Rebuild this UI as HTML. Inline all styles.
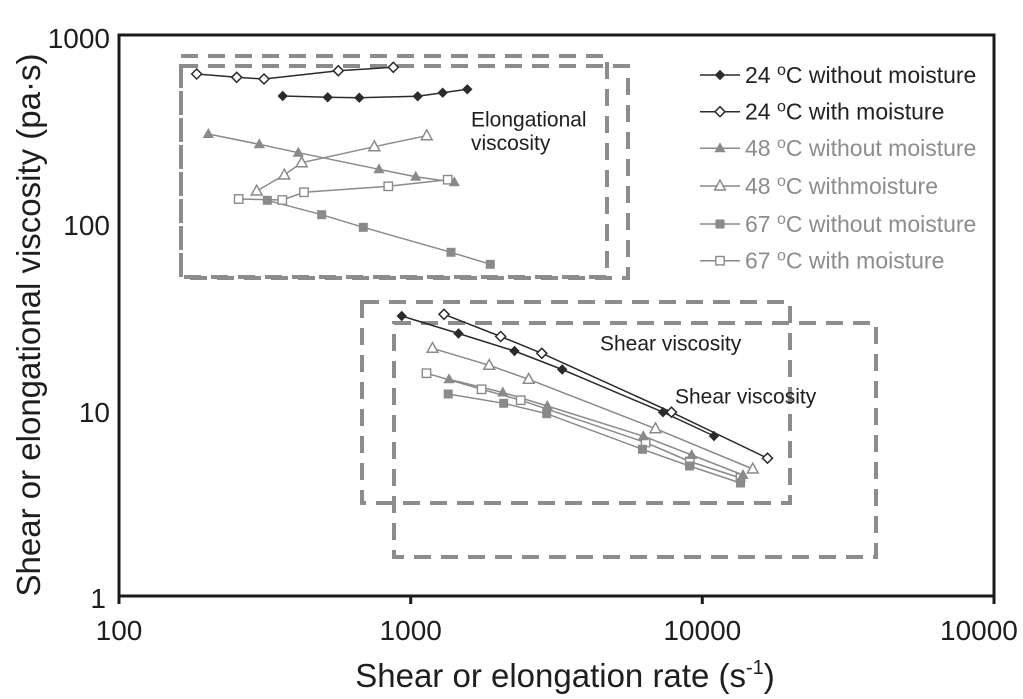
<!DOCTYPE html>
<html>
<head>
<meta charset="utf-8">
<style>
  html,body{margin:0;padding:0;background:#fff;}
  svg{display:block;}
  text{font-family:"Liberation Sans", Arial, sans-serif;}
</style>
</head>
<body>
<svg width="1023" height="699" viewBox="0 0 1023 699" xmlns="http://www.w3.org/2000/svg">
  <defs>
    <path id="fd" d="M0,-5.2 L5.2,0 L0,5.2 L-5.2,0Z" fill="#2b2b2b"/>
    <path id="od" d="M0,-5 L5,0 L0,5 L-5,0Z" fill="#fff" stroke="#2b2b2b" stroke-width="1.5"/>
    <path id="ft" d="M0,-6 L5.6,4 L-5.6,4Z" fill="#8a8a8a"/>
    <path id="ot" d="M0,-5.8 L5.4,4 L-5.4,4Z" fill="#fff" stroke="#8a8a8a" stroke-width="1.5"/>
    <rect id="fs" x="-4.5" y="-4.5" width="9" height="9" fill="#8a8a8a"/>
    <rect id="os" x="-4.2" y="-4.2" width="8.4" height="8.4" fill="#fff" stroke="#8a8a8a" stroke-width="1.4"/>
  </defs>
  <rect width="1023" height="699" fill="#fff"/>

  <!-- dashed boxes -->
  <g fill="none" stroke="#8c8c8c" stroke-width="4" stroke-dasharray="17 10">
    <rect x="181" y="56" width="426" height="221"/>
    <rect x="181" y="66" width="447" height="212"/>
    <rect x="362" y="302" width="428" height="201"/>
    <rect x="394" y="323" width="482" height="234"/>
  </g>

  <!-- series lines -->
  <g fill="none" stroke-width="1.5">
    <polyline stroke="#2b2b2b" points="282.7,96 327.7,97.3 359.3,97.7 417.7,96.3 442.7,92.7 467.3,89.3"/>
    <polyline stroke="#2b2b2b" points="401.7,316 458.5,333.5 514.5,351 562.2,369.5 663,412.2 714,436"/>
    <polyline stroke="#2b2b2b" points="196.7,74 236.7,77.3 264,79 338.3,70.7 393.3,67.3"/>
    <polyline stroke="#2b2b2b" points="444,314.3 500.7,336.5 541.8,353.3 671.5,412.2 767.5,458.2"/>
    <polyline stroke="#8a8a8a" points="208.3,134 259.3,144.3 298.3,152.7 379,169.3 415.7,176.7 454.3,182.3"/>
    <polyline stroke="#8a8a8a" points="449,379.3 502.8,392.5 547.3,406 643.4,436.2 691.7,455 743,475"/>
    <polyline stroke="#8a8a8a" points="256.7,191 284.3,175 301.7,162.7 374.3,146.7 426.7,135.7"/>
    <polyline stroke="#8a8a8a" points="432.5,348.3 489.2,365.3 528.7,379.3 655.5,428.7 752.8,469"/>
    <polyline stroke="#8a8a8a" points="267.3,200.3 321.7,214.7 363.3,227.3 451,252.3 490.3,264.3"/>
    <polyline stroke="#8a8a8a" points="448.2,394 503.7,403.3 546.7,413.7 642.5,449.3 689.5,466 740.5,483"/>
    <polyline stroke="#8a8a8a" points="238.7,199 282.3,200 304,192.3 388.3,186.3 447.7,179.7"/>
    <polyline stroke="#8a8a8a" points="426.5,373.2 481.6,389.3 520.7,400.2 645.6,442.5 689.8,461.5 740.5,478"/>
  </g>

  <g>
    <use href="#os" x="238.7" y="199"/><use href="#os" x="282.3" y="200"/><use href="#os" x="304" y="192.3"/><use href="#os" x="388.3" y="186.3"/><use href="#os" x="447.7" y="179.7"/>
    <use href="#os" x="426.5" y="373.2"/><use href="#os" x="481.6" y="389.3"/><use href="#os" x="520.7" y="400.2"/><use href="#os" x="645.6" y="442.5"/><use href="#os" x="689.8" y="461.5"/><use href="#os" x="740.5" y="478"/>
  </g>
  <g>
    <use href="#fs" x="267.3" y="200.3"/><use href="#fs" x="321.7" y="214.7"/><use href="#fs" x="363.3" y="227.3"/><use href="#fs" x="451" y="252.3"/><use href="#fs" x="490.3" y="264.3"/>
    <use href="#fs" x="448.2" y="394"/><use href="#fs" x="503.7" y="403.3"/><use href="#fs" x="546.7" y="413.7"/><use href="#fs" x="642.5" y="449.3"/><use href="#fs" x="689.5" y="466"/><use href="#fs" x="740.5" y="483"/>
  </g>
  <g>
    <use href="#ot" x="256.7" y="191"/><use href="#ot" x="284.3" y="175"/><use href="#ot" x="301.7" y="162.7"/><use href="#ot" x="374.3" y="146.7"/><use href="#ot" x="426.7" y="135.7"/>
    <use href="#ot" x="432.5" y="348.3"/><use href="#ot" x="489.2" y="365.3"/><use href="#ot" x="528.7" y="379.3"/><use href="#ot" x="655.5" y="428.7"/><use href="#ot" x="752.8" y="469"/>
  </g>
  <g>
    <use href="#ft" x="208.3" y="134"/><use href="#ft" x="259.3" y="144.3"/><use href="#ft" x="298.3" y="152.7"/><use href="#ft" x="379" y="169.3"/><use href="#ft" x="415.7" y="176.7"/><use href="#ft" x="454.3" y="182.3"/>
    <use href="#ft" x="449" y="379.3"/><use href="#ft" x="502.8" y="392.5"/><use href="#ft" x="547.3" y="406"/><use href="#ft" x="643.4" y="436.2"/><use href="#ft" x="691.7" y="455"/><use href="#ft" x="743" y="475"/>
  </g>
  <g>
    <use href="#od" x="196.7" y="74"/><use href="#od" x="236.7" y="77.3"/><use href="#od" x="264" y="79"/><use href="#od" x="338.3" y="70.7"/><use href="#od" x="393.3" y="67.3"/>
    <use href="#od" x="444" y="314.3"/><use href="#od" x="500.7" y="336.5"/><use href="#od" x="541.8" y="353.3"/><use href="#od" x="671.5" y="412.2"/><use href="#od" x="767.5" y="458.2"/>
  </g>
  <g>
    <use href="#fd" x="282.7" y="96"/><use href="#fd" x="327.7" y="97.3"/><use href="#fd" x="359.3" y="97.7"/><use href="#fd" x="417.7" y="96.3"/><use href="#fd" x="442.7" y="92.7"/><use href="#fd" x="467.3" y="89.3"/>
    <use href="#fd" x="401.7" y="316"/><use href="#fd" x="458.5" y="333.5"/><use href="#fd" x="514.5" y="351"/><use href="#fd" x="562.2" y="369.5"/><use href="#fd" x="663" y="412.2"/><use href="#fd" x="714" y="436"/>
  </g>

  <!-- annotations -->
  <g font-size="21" fill="#1e1e1e">
    <text x="471" y="126.5">Elongational</text>
    <text x="471" y="150">viscosity</text>
    <text x="600" y="350.5">Shear viscosity</text>
    <text x="675" y="403.5">Shear viscosity</text>
  </g>

  <!-- legend -->
  <g stroke-width="1.5">
    <line x1="700" y1="75" x2="740" y2="75" stroke="#2b2b2b"/>
    <line x1="700" y1="111.7" x2="740" y2="111.7" stroke="#2b2b2b"/>
    <line x1="700" y1="148.3" x2="740" y2="148.3" stroke="#8a8a8a"/>
    <line x1="700" y1="186" x2="740" y2="186" stroke="#8a8a8a"/>
    <line x1="700" y1="224" x2="740" y2="224" stroke="#8a8a8a"/>
    <line x1="700" y1="260.7" x2="740" y2="260.7" stroke="#8a8a8a"/>
  </g>
  <g>
    <use href="#fd" x="720" y="75"/>
    <use href="#od" x="720" y="111.7"/>
    <use href="#ft" x="720" y="148.3"/>
    <use href="#ot" x="720" y="186"/>
    <use href="#fs" x="720" y="224"/>
    <use href="#os" x="720" y="260.7"/>
  </g>
  <g font-size="23" xml:space="preserve">
    <text x="745" y="83" fill="#222">24 <tspan font-size="16" dy="-8">o</tspan><tspan dy="8">C without moisture</tspan></text>
    <text x="745" y="119.5" fill="#222">24 <tspan font-size="16" dy="-8">o</tspan><tspan dy="8">C  with moisture</tspan></text>
    <text x="745" y="156" fill="#8c8c8c">48 <tspan font-size="16" dy="-8">o</tspan><tspan dy="8">C  without moisture</tspan></text>
    <text x="745" y="194" fill="#8c8c8c">48 <tspan font-size="16" dy="-8">o</tspan><tspan dy="8">C withmoisture</tspan></text>
    <text x="745" y="232" fill="#8c8c8c">67 <tspan font-size="16" dy="-8">o</tspan><tspan dy="8">C without moisture</tspan></text>
    <text x="745" y="268.5" fill="#8c8c8c">67 <tspan font-size="16" dy="-8">o</tspan><tspan dy="8">C with moisture</tspan></text>
  </g>

  <!-- axes frame -->
  <rect x="119" y="35" width="875" height="561" fill="none" stroke="#1a1a1a" stroke-width="3"/>
  <g stroke="#1a1a1a" stroke-width="3">
    <line x1="119" y1="596" x2="119" y2="604"/>
    <line x1="410.7" y1="596" x2="410.7" y2="604"/>
    <line x1="702.3" y1="596" x2="702.3" y2="604"/>
    <line x1="994" y1="596" x2="994" y2="604"/>
  </g>

  <!-- tick labels -->
  <g font-size="28" fill="#1e1e1e">
    <text x="110" y="48" text-anchor="end">1000</text>
    <text x="110" y="235" text-anchor="end">100</text>
    <text x="110" y="422" text-anchor="end">10</text>
    <text x="106" y="608" text-anchor="end">1</text>
    <text x="119" y="640" text-anchor="middle">100</text>
    <text x="410.7" y="640" text-anchor="middle">1000</text>
    <text x="702.3" y="640" text-anchor="middle">10000</text>
    <text x="940" y="640">10000</text>
  </g>

  <!-- axis titles -->
  <text x="565" y="687" font-size="33" text-anchor="middle" fill="#1e1e1e">Shear or elongation rate (s<tspan font-size="20" dy="-13">-1</tspan><tspan dy="13">)</tspan></text>
  <text transform="translate(40,325) rotate(-90)" font-size="33" text-anchor="middle" fill="#1e1e1e">Shear or elongational viscosity (pa·s)</text>
</svg>
</body>
</html>
